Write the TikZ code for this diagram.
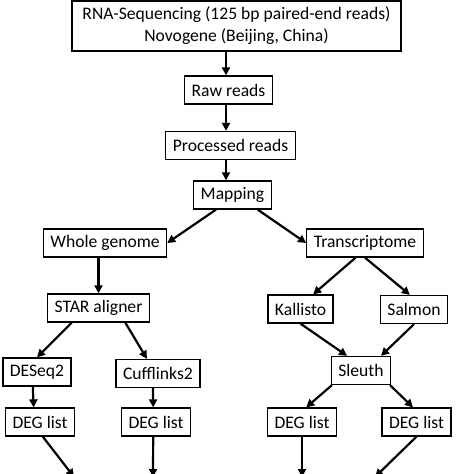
\documentclass[tikz,border=0pt]{standalone}
\usepackage{fontspec}
\setmainfont{Carlito}
\usetikzlibrary{arrows.meta,calc}

\tikzset{
  stepbox/.style={draw=black,line width=1.3pt,fill=white,inner xsep=7pt,inner ysep=2pt,
    minimum height=28pt,font=\fontsize{17.6}{22}\selectfont},
  flow/.style={line width=2.2pt,-{Triangle[length=8pt,width=8pt]}}
}

\begin{document}
\begin{tikzpicture}[x=1pt,y=-1pt]
  \useasboundingbox (0,0) rectangle (474,474);
  \clip (0,0) rectangle (474,474);
  % boxes
  \node[stepbox,align=center,minimum height=50pt,minimum width=329pt] (seq) at (236.5,26)
    {RNA-Sequencing (125 bp paired-end reads)\\Novogene (Beijing, China)};
  \node[stepbox] (raw) at (228.5,90) {Raw reads};
  \node[stepbox] (proc) at (230.5,145.5) {Processed reads};
  \node[stepbox] (map) at (232.5,195) {Mapping};
  \node[stepbox] (whole) at (105,243) {Whole genome};
  \node[stepbox] (trans) at (365,243) {Transcriptome};
  \node[stepbox] (star) at (98.5,308) {STAR aligner};
  \node[stepbox] (kall) at (300.5,309) {Kallisto};
  \node[stepbox] (salm) at (414,309.5) {Salmon};
  \node[stepbox] (deseq) at (37,372) {DESeq2};
  \node[stepbox] (cuff) at (158,373.5) {Cufflinks2};
  \node[stepbox] (sleuth) at (361,370.5) {Sleuth};
  \node[stepbox] (degA) at (40,422) {DEG list};
  \node[stepbox] (degB) at (156,422) {DEG list};
  \node[stepbox] (degC) at (302,422) {DEG list};
  \node[stepbox] (degD) at (416.5,422) {DEG list};
  % free ends below the picture
  \coordinate (endA) at (74,477);
  \coordinate (endB) at (153,477);
  \coordinate (endC) at (302,477);
  \coordinate (endD) at (375,477);
  % arrows
  \draw[flow] (seq.south -| 226,0) -- (raw.north -| 226,0);
  \draw[flow] (raw.south -| 226,0) -- (proc.north -| 226,0);
  \draw[flow] (proc.south -| 226,0) -- (map.north -| 226,0);
  \draw[flow] ($(map.south west)!0.29!(map.south east)$) -- (whole.east);
  \draw[flow] ($(map.south west)!0.82!(map.south east)$) -- (trans.west);
  \draw[flow] (whole.south -| star.north) -- (star.north);
  \draw[flow] ($(trans.south west)!0.42!(trans.south east)$) -- ($(kall.north west)!0.69!(kall.north east)$);
  \draw[flow] (trans.south) -- ($(salm.north west)!0.44!(salm.north east)$);
  \draw[flow] ($(star.south west)!0.24!(star.south east)$) -- (deseq.north);
  \draw[flow] ($(star.south west)!0.76!(star.south east)$) -- ($(cuff.north west)!0.37!(cuff.north east)$);
  \draw[flow] (kall.south) -- ($(sleuth.north west)!0.27!(sleuth.north east)$);
  \draw[flow] (salm.south) -- ($(sleuth.north west)!0.83!(sleuth.north east)$);
  \draw[flow] ($(deseq.south west)!0.44!(deseq.south east)$) -- ($(degA.north west)!0.41!(degA.north east)$);
  \draw[flow] ($(cuff.south west)!0.44!(cuff.south east)$) -- ($(degB.north west)!0.46!(degB.north east)$);
  \draw[flow] ($(sleuth.south west)!0.02!(sleuth.south east)$) -- ($(degC.north west)!0.56!(degC.north east)$);
  \draw[flow] ($(sleuth.south west)!0.98!(sleuth.south east)$) -- ($(degD.north west)!0.45!(degD.north east)$);
  \draw[flow] ($(degA.south west)!0.54!(degA.south east)$) -- (endA);
  \draw[flow] ($(degB.south west)!0.46!(degB.south east)$) -- (endB);
  \draw[flow] (degC.south) -- (endC);
  \draw[flow] ($(degD.south west)!0.5!(degD.south east)$) -- (endD);
\end{tikzpicture}
\end{document}
